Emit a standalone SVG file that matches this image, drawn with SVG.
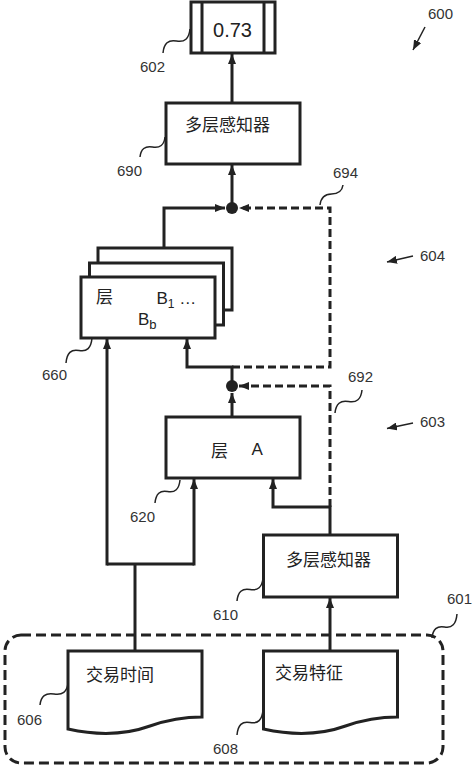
<svg xmlns="http://www.w3.org/2000/svg" width="474" height="768" viewBox="0 0 474 768">
<style>
.box{fill:#fff;stroke:#222;stroke-width:3}
.ln{fill:none;stroke:#222;stroke-width:3}
.dash{fill:none;stroke:#222;stroke-width:3;stroke-dasharray:8 4}
.thin{fill:none;stroke:#222;stroke-width:1.5}
.lbl{font-family:"Liberation Sans",Arial,sans-serif;font-size:15px;fill:#333}
.cjk{font-family:"Noto Sans CJK SC","Liberation Sans",sans-serif;font-size:17px;fill:#222}
.lat{font-family:"Liberation Sans",Arial,sans-serif;font-size:17px;fill:#222}
</style>
<defs>
<marker id="ah" markerUnits="userSpaceOnUse" markerWidth="10" markerHeight="8" refX="10" refY="4" orient="auto">
<path d="M0,0 L10,4 L0,8 Z" fill="#222"/>
</marker>
<marker id="ahs" markerUnits="userSpaceOnUse" markerWidth="10" markerHeight="8" refX="10" refY="4" orient="auto">
<path d="M0,0 L10,4 L0,8 Z" fill="#222"/>
</marker>
</defs>

<g id="connectors">
<path class="ln" d="M232,102 V54" marker-end="url(#ah)"/>
<path class="ln" d="M232,208 V165" marker-end="url(#ah)"/>
<path class="ln" d="M164,248 V208 H225" marker-end="url(#ah)"/>
<path class="dash" d="M232,367 H330 V208 H239" marker-end="url(#ah)"/>
<path class="ln" d="M232,386 V367 H187 V339" marker-end="url(#ah)"/>
<path class="ln" d="M232,417 V393" marker-end="url(#ah)"/>
<path class="dash" d="M330,507 V386 H239" marker-end="url(#ah)"/>
<path class="ln" d="M330,535 V507 H273 V479" marker-end="url(#ah)"/>
<path class="ln" d="M330,651 V598" marker-end="url(#ah)"/>
<path class="ln" d="M135,651 V564"/>
<path class="ln" d="M107,564 H194"/>
<path class="ln" d="M107,565.5 V339" marker-end="url(#ah)"/>
<path class="ln" d="M194,565.5 V479" marker-end="url(#ah)"/>
<circle cx="232" cy="208" r="6" fill="#222"/>
<circle cx="232" cy="386" r="6" fill="#222"/>
</g>

<g id="n602">
<rect class="box" x="191" y="2" width="84" height="51"/>
<path class="ln" d="M202,2 V53 M264,2 V53"/>
<text x="232.5" y="37" text-anchor="middle" style="font-family:'Liberation Sans',Arial,sans-serif;font-size:20px;fill:#222">0.73</text>
</g>

<g id="n690">
<rect class="box" x="166" y="103" width="134" height="61"/>
<text class="cjk" x="185" y="131">多层感知器</text>
</g>

<g id="n660">
<rect class="box" x="98" y="248" width="134" height="62"/>
<rect class="box" x="89.5" y="263" width="134" height="62"/>
<rect class="box" x="81" y="277" width="134" height="61"/>
<text class="cjk" x="96" y="303">层</text>
<text class="lat" x="156.5" y="304">B<tspan font-size="12" dy="4">1</tspan><tspan dy="-4"> …</tspan></text>
<text class="lat" x="138" y="325">B<tspan font-size="13" dy="4">b</tspan></text>
</g>

<g id="n620">
<rect class="box" x="166" y="417" width="134" height="61"/>
<text class="cjk" x="211" y="457">层</text>
<text class="lat" x="251.5" y="455">A</text>
</g>

<g id="n610">
<rect class="box" x="263.5" y="535" width="134" height="62"/>
<text class="cjk" x="286" y="566">多层感知器</text>
</g>

<g id="n601">
<rect x="5" y="635" width="438" height="128" rx="16" fill="none" stroke="#222" stroke-width="3" stroke-dasharray="10 5"/>
</g>

<g id="n606">
<path class="box" d="M68,651 H202 V717 C185,717 170,719 150,726 C125,735 95,735 68,729 Z"/>
<text class="cjk" x="86" y="681">交易时间</text>
</g>

<g id="n608">
<path class="box" d="M263.5,651 H397.5 V717 C380.5,717 365.5,719 345.5,726 C320.5,735 290.5,735 263.5,729 Z"/>
<text class="cjk" x="275" y="679">交易特征</text>
</g>

<g id="labels">
<text class="lbl" x="428" y="19">600</text>
<path class="thin" d="M425,27 L413,50" marker-end="url(#ahs)"/>
<text class="lbl" x="140" y="72">602</text>
<path class="thin" d="M163,53 Q164.4,38.6 176.5,41 T190,29"/>
<text class="lbl" x="117" y="176">690</text>
<path class="thin" d="M140,157 Q141.3,145 152.5,147 T165,137"/>
<text class="lbl" x="333" y="178">694</text>
<path class="thin" d="M320,205 Q321.2,194.2 331.5,194 T343,185"/>
<text class="lbl" x="420" y="261">604</text>
<path class="thin" d="M413,256 L387,262" marker-end="url(#ahs)"/>
<text class="lbl" x="42" y="380">660</text>
<path class="thin" d="M66,363 Q67.3,348 79,350.5 T92,338"/>
<text class="lbl" x="348" y="382">692</text>
<path class="thin" d="M335,413 Q336.4,399.2 348.5,401.5 T362,390"/>
<text class="lbl" x="420" y="427">603</text>
<path class="thin" d="M413,423 L387,428.5" marker-end="url(#ahs)"/>
<text class="lbl" x="130" y="522">620</text>
<path class="thin" d="M155,503 Q156.3,489.2 167.5,491.5 T180,480"/>
<text class="lbl" x="213" y="620">610</text>
<path class="thin" d="M237,601 Q238.3,587.2 250,589.5 T263,578"/>
<text class="lbl" x="472" y="604" text-anchor="end">601</text>
<path class="thin" d="M432,638 Q433.3,624.8 444.5,627 T457,614"/>
<text class="lbl" x="17" y="725">606</text>
<path class="thin" d="M40,705 Q41.4,691.8 54,694 T68,683"/>
<text class="lbl" x="213" y="754">608</text>
<path class="thin" d="M237,735 Q238.3,720 250,722.5 T263,710"/>
</g>
</svg>
